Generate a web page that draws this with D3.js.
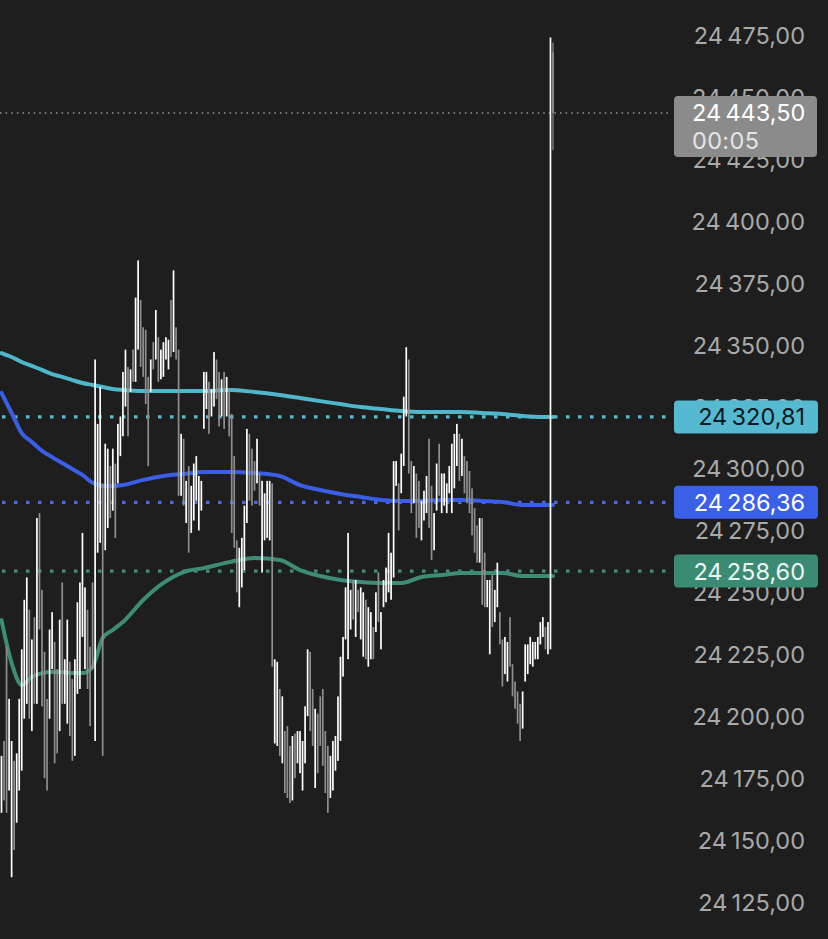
<!DOCTYPE html>
<html><head><meta charset="utf-8">
<script src="https://cdn.jsdelivr.net/npm/d3@7"></script>
<style>html,body{margin:0;padding:0;background:#1e1e1e;} svg{display:block;}</style>
</head><body>
<svg id="c" width="828" height="939"></svg>
<script>
const tickValues = [24125,24150,24175,24200,24225,24250,24275,24300,24325,24350,24375,24400,24425,24450,24475];

const opens = [
24161,24190,24228,24170,24135,24182,24157,24170,24178,24199,
24205,24243,24194,24240,24205,24282,24251,24226,24207,24199,
24219,24230,24219,24194,24254,24205,24197,24222,24215,24184,
24209,24211,24232,24219,24243,24228,24254,
24190,24266,24270,24294,24267,24276,24301,24283,24302,24294,
24305,24313,24325,24341,24331,24348,24335,24348,24368,24357,
24356,24337,24331,24351,24344,24353,24336,24337,24344,24340,
24368,24347,24357,24348,
24289,24312,24278,24301,24274,24279,24287,24275,24283,24316,
24324,24335,24321,24325,24344,24339,24321,24339,24321,24332,
24322,24305,24271,24244,24252,24259,24278,24314,24308,24303,
24294,24298,24258,24271,24272,24271,
24294,24189,24188,24211,24181,24194,24196,24188,24166,24193,
24181,24177,24170,24181,24200,24226,24211,24171,24201,24208,
24211,24194,24188,24167,24170,24178,24182,24190,24216,24231,
24223,24235,24255,24232,24251,24231,
24224,24247,24220,24223,24236,24234,24258,24227,24244,24246,
24250,24247,24256,24293,24294,24290,24301,24321,24344,24303,
24286,24298,24295,24271,24279,24282,24312,24293,24267,24283,
24310,24282,24285,24282,24290,
24282,24292,24301,24314,24297,24305,24303,24299,24292,24284,
24277,24262,24280,24266,24244,24225,24257,24238,24244,24242,
24231,24217,24214,24240,24221,24214,24210,24205,24195,24214,
24217,24221,24220,24223,24223,24229,24232,24236,24225,24227,24468
];

const closes = [
24184,24166,24161,24207,24190,24146,24185,24207,24227,24247,
24256,24199,24231,24205,24280,24235,24204,24175,24170,24235,
24242,24181,24185,24239,24205,24223,24239,24192,24182,24223,
24246,24254,24274,24252,24211,24196,24219,
24344,24318,24333,24184,24310,24308,24280,24308,24272,24318,
24321,24339,24348,24313,24340,24335,24369,24384,24341,24337,
24326,24301,24344,24340,24364,24335,24348,24351,24353,24352,
24345,24380,24344,24289,
24314,24285,24295,24266,24293,24302,24305,24297,24295,24339,
24339,24314,24332,24347,24328,24317,24336,24316,24337,24313,
24274,24268,24250,24268,24272,24285,24316,24287,24285,24291,
24312,24285,24295,24290,24295,24295,
24220,24223,24222,24184,24208,24169,24167,24165,24192,24175,
24194,24194,24190,24204,24227,24194,24188,24203,24177,24188,
24180,24169,24161,24184,24190,24192,24208,24224,24232,24252,
24274,24251,24239,24255,24242,24252,
24250,24223,24244,24242,24223,24250,24238,24242,24255,24260,
24274,24266,24303,24303,24275,24306,24329,24349,24298,24282,
24301,24272,24276,24287,24291,24297,24276,24263,24282,24302,
24289,24298,24298,24294,24301,
24310,24314,24318,24295,24312,24290,24286,24282,24273,24266,
24262,24280,24245,24244,24255,24255,24236,24251,24262,24229,
24212,24232,24230,24220,24208,24203,24197,24190,24210,24229,
24229,24232,24230,24230,24232,24238,24240,24227,24238,24474,24443.5
];

// wick extremes of the live (last) candle
const lastHigh = 24472;
const lastLow = 24428.5;

const maIndex = [0,4,8,12,16,20,24,28,32,36,40,44,48,56,64,72,80,90,100,110,118,126,134,142,150,158,166,174,182,190,198,206,214,218];
const maCyan = [24346.6,24345.0,24343.0,24341.4,24339.8,24338.1,24337.0,24335.7,24334.5,24333.7,
  24332.9,24332.1,24331.7,24331.3,24331.3,24331.3,24331.3,24331.7,24330.9,24329.7,
  24328.5,24327.2,24326.0,24324.8,24324.0,24323.2,24322.8,24322.8,24322.8,24322.4,
  24322.0,24321.2,24320.8,24320.8];
const maBlue = [24330.5,24322.4,24314.3,24310.7,24307.1,24304.6,24302.2,24299.8,24297.4,24294.2,
  24292.9,24292.9,24293.3,24295.4,24297.0,24297.8,24298.6,24298.6,24298.2,24297.0,
  24293.3,24291.3,24289.7,24288.5,24287.3,24286.9,24286.9,24287.3,24287.3,24286.9,
  24286.5,24285.3,24285.3,24285.3];
const maGreen = [24238.8,24221.5,24212.6,24215.8,24217.4,24217.8,24217.8,24217.4,24217.4,24219.9,
  24231.6,24234.8,24238.0,24246.9,24253.8,24258.2,24259.8,24262.2,24263.9,24263.1,
  24259.0,24256.6,24255.0,24254.2,24253.8,24253.8,24256.2,24257.0,24257.8,24257.8,
  24257.8,24256.6,24256.6,24256.6];

const maLabelValues = [24320.81, 24286.36, 24258.60];
const lastPrice = 24443.50;
const countdown = "00:05";

const W = 828, H = 939;
const FONT = "Inter, 'Noto Sans', sans-serif";
const FS = 23.5;
const LS = 0.35;
const svg = d3.select("#c");
svg.append("rect").attr("width", W).attr("height", H).attr("fill", "#1e1e1e");

const x = d3.scaleLinear().domain([0, opens.length - 1]).range([1.5, 553]);
const y = d3.scaleLinear().domain([24125, 24475]).range([902, 35]);
const loc = d3.formatLocale({decimal: ",", thousands: "\u202F", grouping: [3], currency: ["", ""]});
const fmt = loc.format(",.2f");

// axis labels
const axis = d3.axisRight(y).tickValues(tickValues).tickFormat(fmt).tickSize(0).tickPadding(0);
const ga = svg.append("g").attr("transform", "translate(805,0)").call(axis);
ga.select(".domain").remove();
ga.attr("font-family", FONT).attr("font-size", FS);
ga.selectAll("text").attr("text-anchor", "end").attr("fill", "#a9a9a9").attr("x", 0)
  .attr("dy", "0.36em").attr("letter-spacing", LS);

const series = [
  {vals: maCyan, line: "#4fb6cb", dot: "#5cbccd", box: "#56b9d2", text: "#0b1a20", label: maLabelValues[0]},
  {vals: maBlue, line: "#3a5ee6", dot: "#5266dc", box: "#3b60e8", text: "#ffffff", label: maLabelValues[1]},
  {vals: maGreen, line: "#3d8c76", dot: "#3f8c77", box: "#3b8a74", text: "#eef8f3", label: maLabelValues[2]}
];

// dotted level lines
svg.append("line").attr("x1", 0).attr("x2", 670).attr("y1", y(lastPrice)).attr("y2", y(lastPrice))
  .attr("stroke", "#8f8f8f").attr("stroke-width", 1.5).attr("stroke-dasharray", "1.6,4");
series.forEach(s => {
  svg.append("line").attr("x1", 2).attr("x2", 666).attr("y1", y(s.label)).attr("y2", y(s.label))
    .attr("stroke", s.dot).attr("stroke-width", 3.2).attr("stroke-dasharray", "3.5,8.5");
});

// moving averages
const line = d3.line().x((d, i) => x(maIndex[i])).y(d => y(d)).curve(d3.curveMonotoneX);
series.forEach(s => {
  svg.append("path").attr("d", line(s.vals)).attr("fill", "none")
    .attr("stroke", s.line).attr("stroke-width", 4).attr("stroke-linecap", "round");
});

// candles
const cw = 1.7;
svg.append("g").selectAll("rect").data(opens).join("rect")
  .attr("x", (d, i) => x(i) - cw / 2)
  .attr("width", cw)
  .attr("y", (d, i) => y(Math.max(d, closes[i])))
  .attr("height", (d, i) => Math.max(1, Math.abs(y(d) - y(closes[i]))))
  .attr("fill", (d, i) => closes[i] >= d ? "#ffffff" : "#8f8f8f");
// wick of the live candle
const li = opens.length - 1;
svg.append("line").attr("x1", x(li)).attr("x2", x(li)).attr("y1", y(lastHigh)).attr("y2", y(lastLow))
  .attr("stroke", "#8f8f8f").attr("stroke-width", 1.2);

// MA value boxes
series.forEach(s => {
  const cy = y(s.label);
  svg.append("rect").attr("x", 674).attr("y", cy - 16.5).attr("width", 144).attr("height", 33)
    .attr("rx", 4).attr("fill", s.box);
  svg.append("text").attr("x", 805).attr("y", cy).attr("dy", "0.36em").attr("text-anchor", "end")
    .attr("font-family", FONT).attr("font-size", FS).attr("letter-spacing", LS)
    .attr("fill", s.text).text(fmt(s.label));
});

// last price box
const ly = y(lastPrice);
svg.append("rect").attr("x", 674).attr("y", ly - 17).attr("width", 143).attr("height", 61)
  .attr("rx", 4).attr("fill", "#8b8b8b");
svg.append("text").attr("x", 692).attr("y", ly + 8).attr("font-family", FONT).attr("font-size", FS)
  .attr("letter-spacing", LS).attr("fill", "#ffffff").text(fmt(lastPrice));
svg.append("text").attr("x", 692).attr("y", ly + 36).attr("font-family", FONT).attr("font-size", FS)
  .attr("letter-spacing", LS).attr("fill", "#e4e4e4").text(countdown);
</script>
</body></html>
